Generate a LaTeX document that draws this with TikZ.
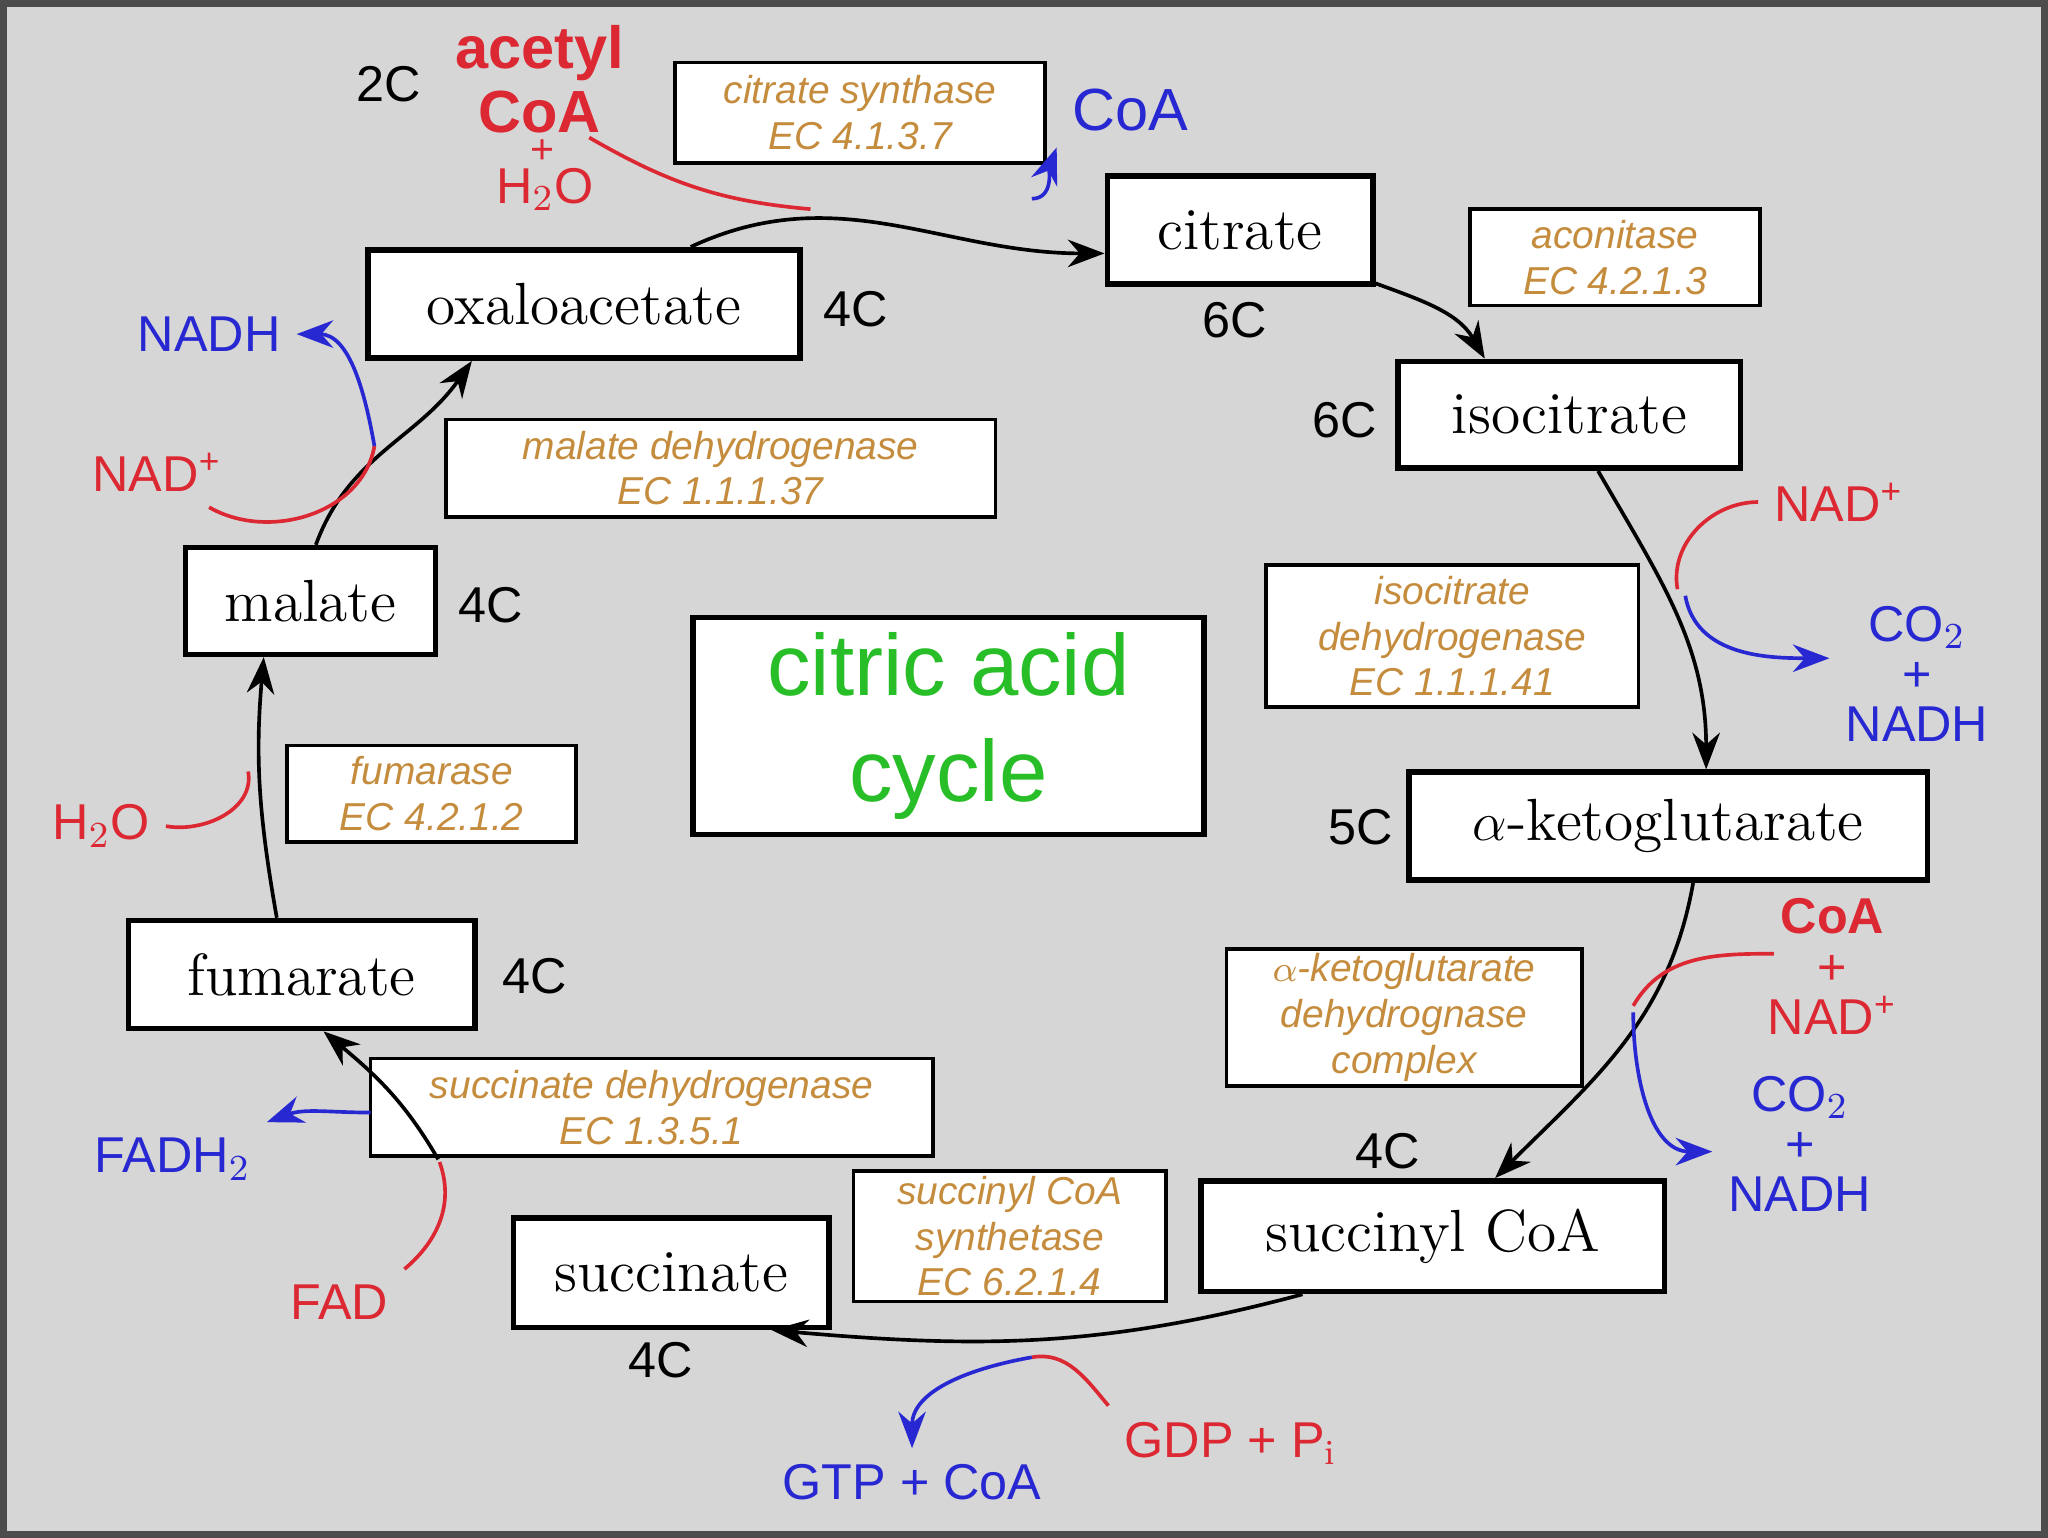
\documentclass[tikz,border=0pt]{standalone}
\usepackage{fontspec}
\setsansfont{Liberation Sans}
\usetikzlibrary{arrows.meta}

\definecolor{bgray}{RGB}{214,214,214}
\definecolor{enz}{RGB}{196,140,60}
\definecolor{ired}{RGB}{220,40,50}
\definecolor{oblue}{RGB}{40,40,210}
\definecolor{tgreen}{RGB}{40,190,40}

\begin{document}
\begin{tikzpicture}[x=0.01cm,y=-0.01cm]

	% styles
	\tikzstyle{metab}=[draw=black,very thick,fill=white,inner sep=0pt,font=\fontsize{13}{15}\selectfont];
	\tikzstyle{enzyme}=[draw=black,thick,fill=white,inner sep=0pt,align=center,text=enz,font=\sffamily\itshape\fontsize{8.5}{10}\selectfont];
	\tikzstyle{carbon}=[font=\sffamily\fontsize{11}{13}\selectfont];
	\tikzstyle{inred}=[text=ired,align=center,font=\sffamily\fontsize{11}{11}\selectfont];
	\tikzstyle{outblue}=[text=oblue,align=center,font=\sffamily\fontsize{11}{11}\selectfont];
	\tikzstyle{cycle}=[thick,-{Stealth[length=8pt]}];
	\tikzstyle{redin}=[ired,thick];
	\tikzstyle{blueout}=[oblue,thick,-{Stealth[length=8pt]}];

	% background and frame
	\filldraw[fill=bgray,draw=black!70,line width=1.5pt] (0,0) rectangle (1568,1176);

	% metabolites
	\node[metab,minimum width=2.04cm,minimum height=0.83cm] (cit) at (950,174) {citrate};
	\node[metab,minimum width=2.63cm,minimum height=0.82cm] (iso) at (1203,316) {isocitrate};
	\node[metab,minimum width=3.98cm,minimum height=0.83cm] (akg) at (1279,632) {$\alpha$-ketoglutarate};
	\node[metab,minimum width=3.56cm,minimum height=0.85cm] (sca) at (1098,947) {succinyl CoA};
	\node[metab,minimum width=2.42cm,minimum height=0.84cm] (suc) at (513,975) {succinate};
	\node[metab,minimum width=2.66cm,minimum height=0.83cm] (fum) at (229,746) {fumarate};
	\node[metab,minimum width=1.92cm,minimum height=0.82cm] (mal) at (236,459) {malate};
	\node[metab,minimum width=3.32cm,minimum height=0.83cm] (oaa) at (446,231) {oxaloacetate};

	% title
	\node[draw=black,very thick,fill=white,minimum width=3.92cm,minimum height=1.49cm,align=center,text=tgreen,
		font=\sffamily\fontsize{19}{23}\selectfont] (title) at (726,555) {citric acid\\cycle};

	% enzymes
	\node[enzyme,minimum width=2.84cm,minimum height=0.77cm] (cs) at (658,84) {citrate synthase\\EC 4.1.3.7};
	\node[enzyme,minimum width=2.23cm,minimum height=0.74cm] (aco) at (1238,195) {aconitase\\EC 4.2.1.3};
	\node[enzyme,minimum width=4.22cm,minimum height=0.75cm] (mdh) at (551,357) {malate dehydrogenase\\EC 1.1.1.37};
	\node[enzyme,minimum width=2.86cm,minimum height=1.09cm] (idh) at (1113,486) {isocitrate\\dehydrogenase\\EC 1.1.1.41};
	\node[enzyme,minimum width=2.22cm,minimum height=0.74cm] (fus) at (329,607) {fumarase\\EC 4.2.1.2};
	\node[enzyme,minimum width=2.73cm,minimum height=1.05cm] (kdh) at (1076,779) {$\alpha$-ketoglutarate\\dehydrognase\\complex};
	\node[enzyme,minimum width=4.32cm,minimum height=0.75cm] (sdh) at (498,848) {succinate dehydrogenase\\EC 1.3.5.1};
	\node[enzyme,minimum width=2.40cm,minimum height=1.00cm] (scs) at (773,947) {succinyl CoA\\synthetase\\EC 6.2.1.4};

	% carbon counts
	\node[carbon] (c1) at (296,62) {2C};
	\node[carbon] (c2) at (655,235) {4C};
	\node[carbon] (c3) at (946,243) {6C};
	\node[carbon] (c4) at (1030,320) {6C};
	\node[carbon] (c5) at (1043,633) {5C};
	\node[carbon] (c6) at (1063,882) {4C};
	\node[carbon] (c7) at (505,1042) {4C};
	\node[carbon] (c8) at (408,747) {4C};
	\node[carbon] (c9) at (374,462) {4C};

	% cofactors
	\node[inred,font=\sffamily\bfseries\fontsize{13}{14}\selectfont] (acoa) at (412,58) {acetyl\\CoA};
	\node[inred,font=\sffamily\fontsize{9}{9}\selectfont] (plus1) at (414,114) {+};
	\node[inred] (h2oa) at (416,143) {H$_2$O};
	\node[outblue,font=\sffamily\fontsize{13}{13}\selectfont] (coa1) at (866,82) {CoA};
	\node[outblue] (nadh1) at (158,254) {NADH};
	\node[inred] (nad1) at (118,360) {NAD\textsuperscript{+}};
	\node[inred] (nad2) at (1410,383) {NAD\textsuperscript{+}};
	\node[outblue,font=\sffamily\fontsize{11}{11}\selectfont] (co2a) at (1470,515) {CO$_2$\\+\\NADH};
	\node[inred,font=\sffamily\fontsize{11}{11}\selectfont] (coan) at (1405,740) {\textbf{CoA}\\+\\NAD\textsuperscript{+}};
	\node[outblue,font=\sffamily\fontsize{11}{11}\selectfont] (co2b) at (1380,876) {CO$_2$\\+\\NADH};
	\node[inred] (h2ob) at (75,632) {H$_2$O};
	\node[outblue] (fadh) at (130,888) {FADH$_2$};
	\node[inred] (fad) at (258,998) {FAD};
	\node[outblue] (gtp) at (698,1136) {GTP + CoA};
	\node[inred] (gdp) at (943,1106) {GDP + P$_\mathrm{i}$};

	% main cycle
	\draw[cycle] (528,187) to[out=25,in=180] ([yshift=-0.18cm]cit.west);
	\draw[cycle] ([shift={(-0.04cm,0.04cm)}]cit.south east) to[out=-20,in=120] ([xshift=-0.65cm]iso.north);
	\draw[cycle] ([xshift=0.22cm]iso.south) to[out=-60,in=90] ([xshift=0.29cm]akg.north);
	\draw[cycle] ([xshift=0.19cm]akg.south) to[out=-100,in=45] ([xshift=2.28cm]sca.north west);
	\draw[cycle] ([xshift=-1.00cm]sca.south) to[out=-165,in=-5] ([xshift=-0.46cm]suc.south east);
	\draw[cycle] (334,888) to[out=120,in=-40] ([xshift=1.52cm]fum.south west);
	\draw[cycle] ([xshift=-0.19cm]fum.north) to[out=100,in=-95] ([xshift=-0.36cm]mal.south);
	\draw[cycle] ([xshift=0.04cm]mal.north) to[out=70,in=-125] ([xshift=0.82cm]oaa.south west);

	% side reactions
	\coordinate (j1) at (620,158);
	\draw[redin] (450,103) to[out=-30,in=175] (j1);
	\draw[blueout] (790,150) to[out=0,in=-110] (coa1.south west);
	\coordinate (j2) at (285,340);
	\draw[redin] (158,387) to[out=-30,in=-100] (j2);
	\draw[blueout] (j2) to[out=100,in=0] (nadh1.east);
	\draw[redin] (nad2.west) to[out=180,in=100] (1286,450);
	\draw[blueout] (1292,455) to[out=-80,in=180] ([yshift=0.12cm]co2a.west);
	\draw[redin] (1360,730) to[out=180,in=60] (1252,770);
	\draw[blueout] (1252,775) to[out=-90,in=180] ([yshift=-0.06cm]co2b.west);
	\draw[redin] (h2ob.east) to[out=-10,in=-80] (188,590);
	\draw[blueout] (282,852) to[out=180,in=20] (fadh.north east);
	\draw[redin] (fad.north east) to[out=40,in=-70] (335,890);
	\draw[redin] (gdp.north west) to[out=130,in=10] (790,1040);
	\draw[blueout] (790,1040) to[out=190,in=90] (gtp.north);

\end{tikzpicture}
\end{document}
